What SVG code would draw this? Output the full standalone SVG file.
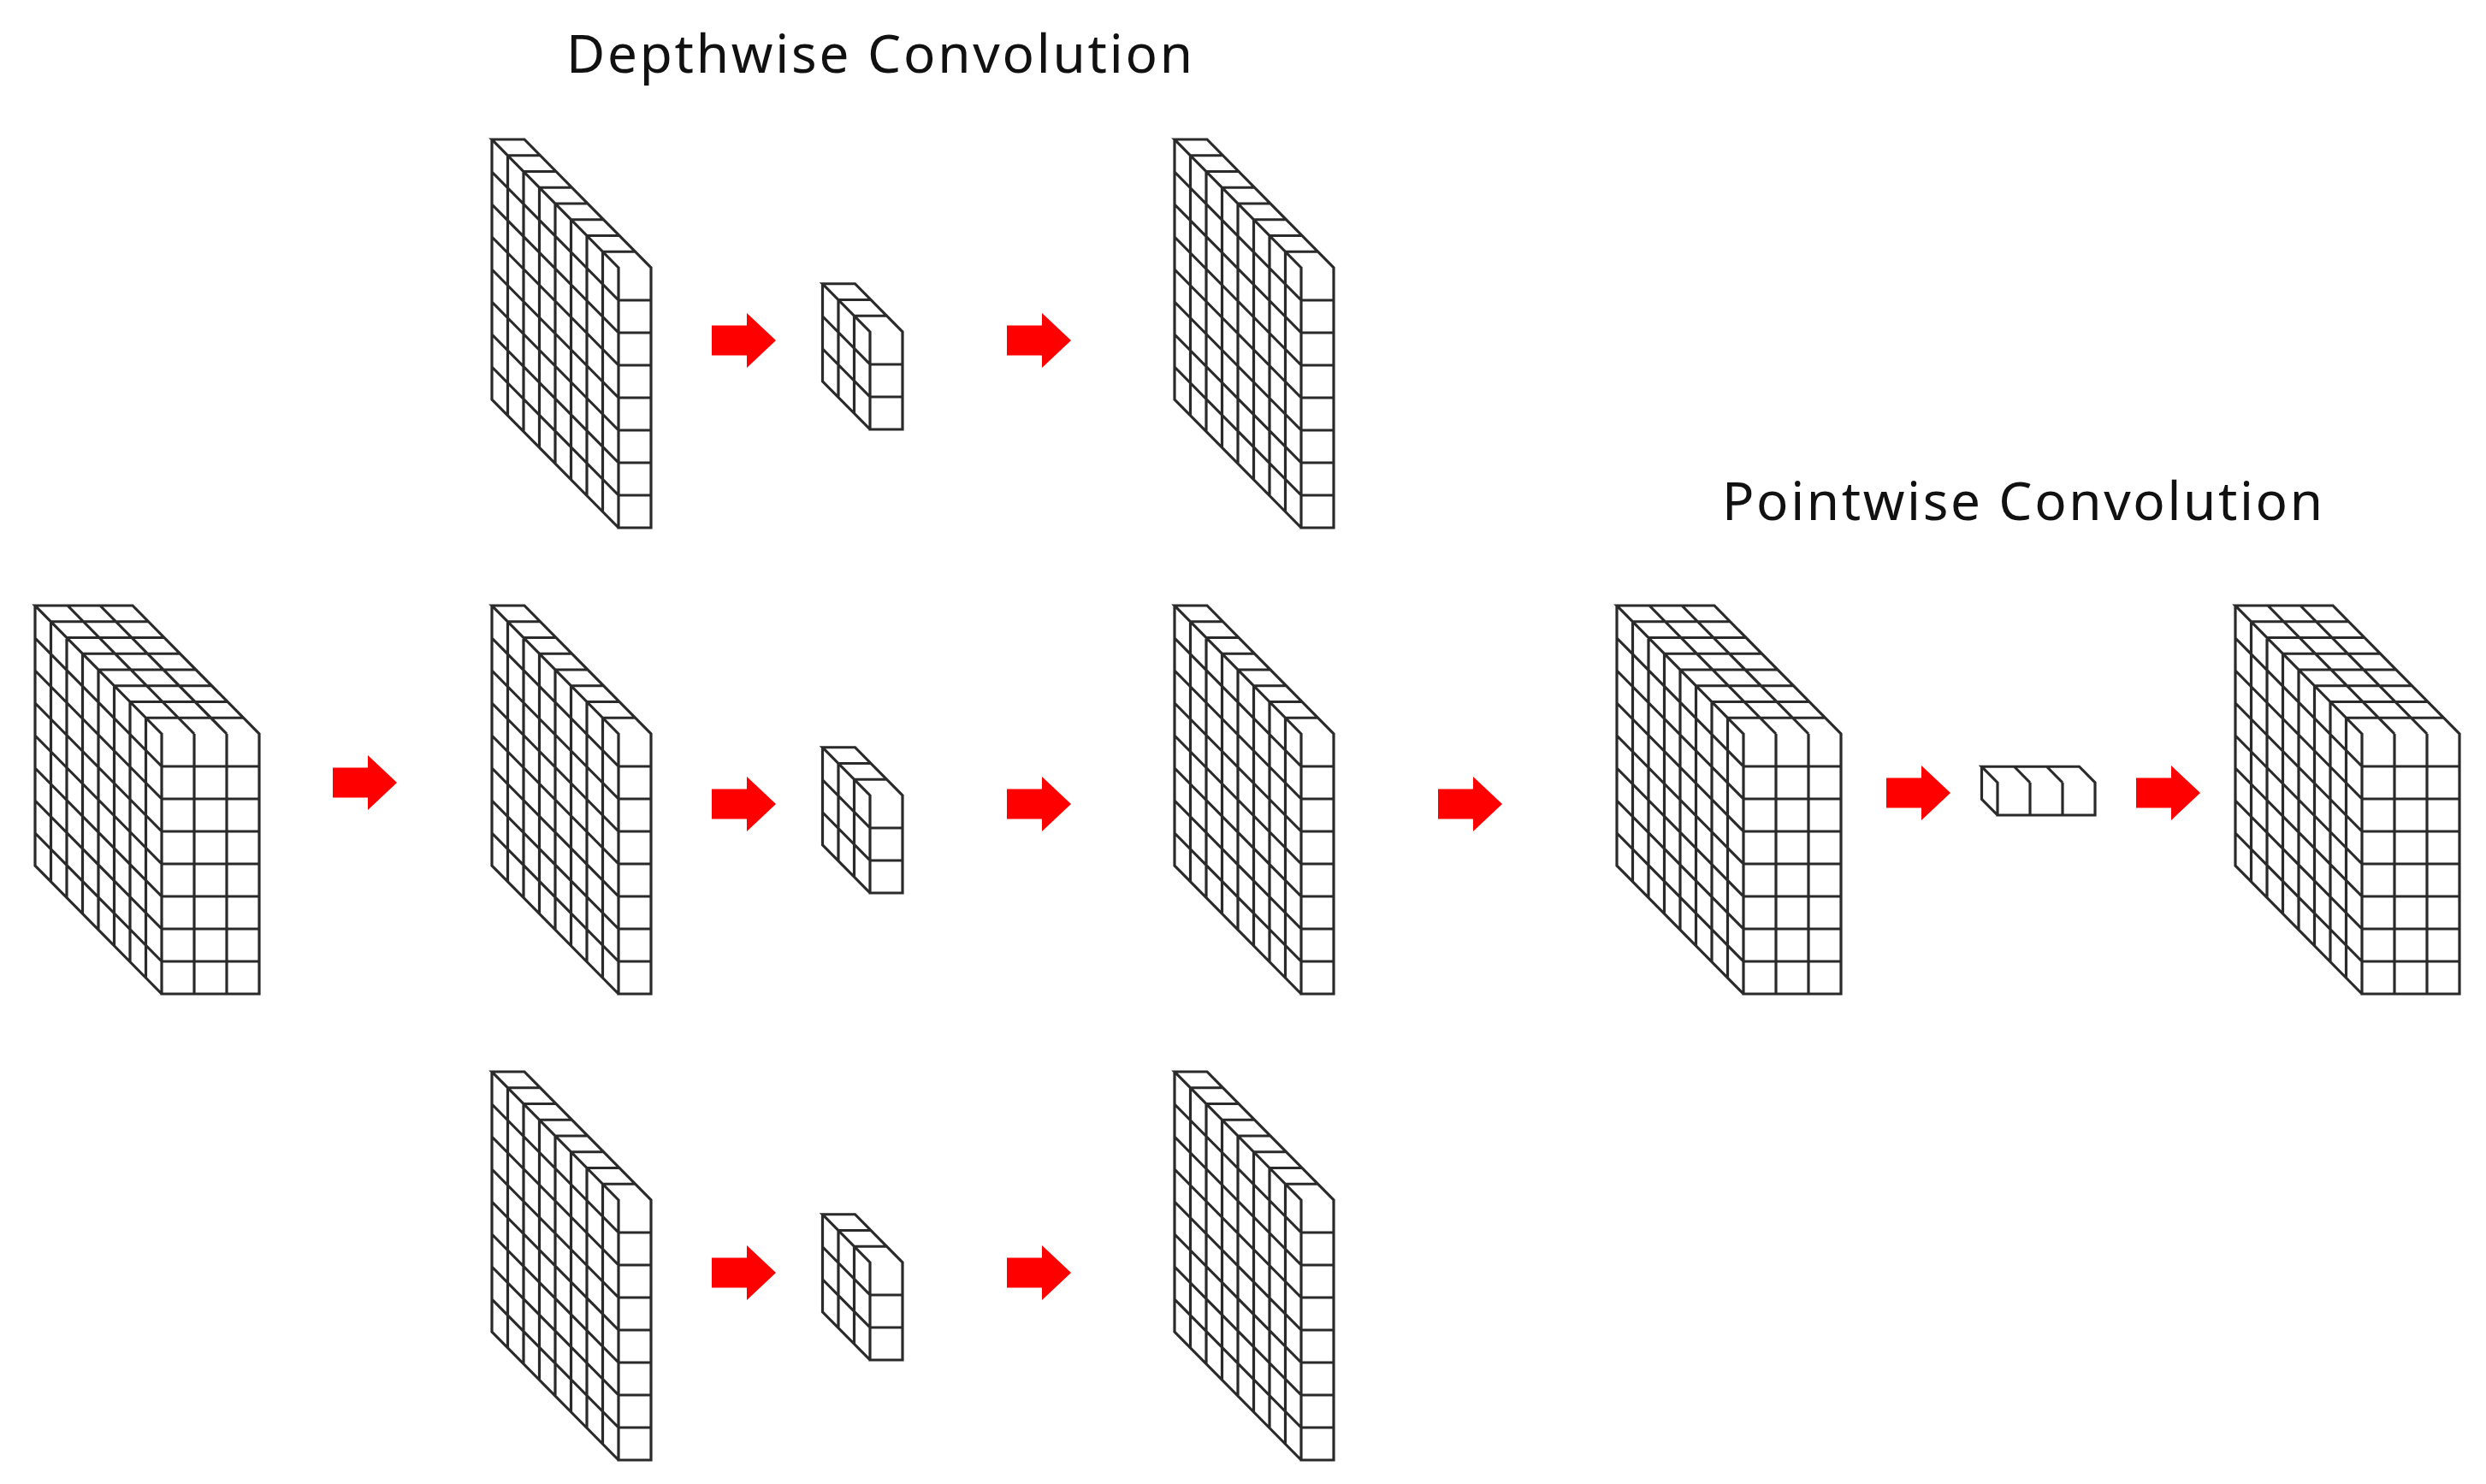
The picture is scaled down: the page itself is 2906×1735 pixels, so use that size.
<svg xmlns="http://www.w3.org/2000/svg" xmlns:xlink="http://www.w3.org/1999/xlink" width="2906" height="1735" viewBox="0 0 2906 1735">
<style>
.g{fill:#fff;stroke:#2a2a2a;stroke-width:3.2;stroke-linejoin:miter}
.t{font-family:"Malgun Gothic","Noto Sans","Liberation Sans",sans-serif;font-size:62px;fill:#111}
.ar{fill:#ff0000}
</style>
<defs>
<path id="slab" class="g" d="M0 0L-148 -150H-110L38 0V304H0ZM0 304L-148 154V-150M-18.5 -18.75h38M-37 -37.5h38M-55.5 -56.25h38M-74 -75h38M-92.5 -93.75h38M-111 -112.5h38M-129.5 -131.25h38M-18.5 -18.75v304M-37 -37.5v304M-55.5 -56.25v304M-74 -75v304M-92.5 -93.75v304M-111 -112.5v304M-129.5 -131.25v304M0 38l-148 -150M0 76l-148 -150M0 114l-148 -150M0 152l-148 -150M0 190l-148 -150M0 228l-148 -150M0 266l-148 -150M0 38h38M0 76h38M0 114h38M0 152h38M0 190h38M0 228h38M0 266h38"/>
<path id="cube" class="g" d="M0 0L-148 -150H-34L114 0V304H0ZM0 304L-148 154V-150M38 0l-148 -150M76 0l-148 -150M-18.5 -18.75h114M-37 -37.5h114M-55.5 -56.25h114M-74 -75h114M-92.5 -93.75h114M-111 -112.5h114M-129.5 -131.25h114M-18.5 -18.75v304M-37 -37.5v304M-55.5 -56.25v304M-74 -75v304M-92.5 -93.75v304M-111 -112.5v304M-129.5 -131.25v304M0 38l-148 -150M0 76l-148 -150M0 114l-148 -150M0 152l-148 -150M0 190l-148 -150M0 228l-148 -150M0 266l-148 -150M0 38h114M0 76h114M0 114h114M0 152h114M0 190h114M0 228h114M0 266h114M38 0v304M76 0v304"/>
<path id="kern" class="g" d="M0 0L-55.5 -56.25H-17.5L38 0V114H0ZM0 114L-55.5 57.75V-56.25M-18.5 -18.75h38M-37 -37.5h38M-18.5 -18.75v114M-37 -37.5v114M0 38l-55.5 -56.25M0 76l-55.5 -56.25M0 38h38M0 76h38"/>
<path id="pwk" class="g" d="M0 0L-18.5 -18.75H95.5L114 0V38H0ZM0 38L-18.5 19.25V-18.75M38 0l-18.5 -18.75M76 0l-18.5 -18.75M38 0v38M76 0v38"/>
<polygon id="arr" class="ar" points="0,-17.5 41,-17.5 41,-32 75,0 41,32 41,17.5 0,17.5"/>
</defs>
<rect width="2906" height="1735" fill="#fff"/>
<text class="t" x="1028" y="85" text-anchor="middle" textLength="732">Depthwise Convolution</text>
<text class="t" x="2364" y="608" text-anchor="middle" textLength="702">Pointwise Convolution</text>
<g id="input"><use xlink:href="#cube" x="189" y="858"/></g>
<g id="dw-in-1"><use xlink:href="#slab" x="723" y="313"/></g>
<g id="dw-in-2"><use xlink:href="#slab" x="723" y="858"/></g>
<g id="dw-in-3"><use xlink:href="#slab" x="723" y="1403"/></g>
<g id="dw-k-1"><use xlink:href="#kern" x="1017" y="388"/></g>
<g id="dw-k-2"><use xlink:href="#kern" x="1017" y="930"/></g>
<g id="dw-k-3"><use xlink:href="#kern" x="1017" y="1476"/></g>
<g id="dw-out-1"><use xlink:href="#slab" x="1521" y="313"/></g>
<g id="dw-out-2"><use xlink:href="#slab" x="1521" y="858"/></g>
<g id="dw-out-3"><use xlink:href="#slab" x="1521" y="1403"/></g>
<g id="pw-in"><use xlink:href="#cube" x="2038" y="858"/></g>
<g id="pw-k"><use xlink:href="#pwk" x="2335" y="915"/></g>
<g id="output"><use xlink:href="#cube" x="2761" y="858"/></g>
<g id="connectors">
<use xlink:href="#arr" x="389" y="915"/>
<use xlink:href="#arr" x="832" y="398"/>
<use xlink:href="#arr" x="832" y="940"/>
<use xlink:href="#arr" x="832" y="1488"/>
<use xlink:href="#arr" x="1177" y="398"/>
<use xlink:href="#arr" x="1177" y="940"/>
<use xlink:href="#arr" x="1177" y="1488"/>
<use xlink:href="#arr" x="1681" y="940"/>
<use xlink:href="#arr" x="2205" y="927"/>
<use xlink:href="#arr" x="2497" y="927"/>
</g>
</svg>
